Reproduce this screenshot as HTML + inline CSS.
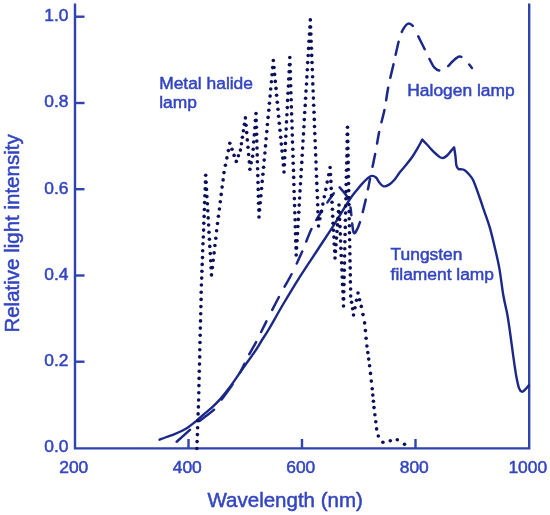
<!DOCTYPE html>
<html><head><meta charset="utf-8"><style>
html,body{margin:0;padding:0;background:#fff;}
body{width:550px;height:515px;overflow:hidden;}
svg{display:block;}
text{font-family:"Liberation Sans",Arial,sans-serif;fill:#3345c0;stroke:#3345c0;stroke-width:0.5px;}
</style></head><body>
<svg width="550" height="515" viewBox="0 0 550 515">
<rect width="550" height="515" fill="#fff"/>
<g stroke="#2e42b0" stroke-width="2.4" fill="none">
<polyline points="75,3.5 75,448.4 529.2,448.4 529.2,3.5"/>
<line x1="75" y1="361.7" x2="84.5" y2="361.7"/><line x1="75" y1="275.5" x2="84.5" y2="275.5"/><line x1="75" y1="189.2" x2="84.5" y2="189.2"/><line x1="75" y1="103.0" x2="84.5" y2="103.0"/><line x1="75" y1="16.7" x2="84.5" y2="16.7"/><line x1="188.5" y1="448" x2="188.5" y2="439"/><line x1="302.0" y1="448" x2="302.0" y2="439"/><line x1="415.5" y1="448" x2="415.5" y2="439"/>
</g>
<g font-size="17.4"><text x="68.5" y="452.3" text-anchor="end">0.0</text><text x="68.5" y="366.0" text-anchor="end">0.2</text><text x="68.5" y="279.8" text-anchor="end">0.4</text><text x="68.5" y="193.5" text-anchor="end">0.6</text><text x="68.5" y="107.3" text-anchor="end">0.8</text><text x="68.5" y="21.0" text-anchor="end">1.0</text><text x="73.8" y="473" text-anchor="middle">200</text><text x="187.3" y="473" text-anchor="middle">400</text><text x="300.8" y="473" text-anchor="middle">600</text><text x="414.3" y="473" text-anchor="middle">800</text><text x="527.8" y="473" text-anchor="middle">1000</text></g>
<path d="M159.60,439.70 C160.73,439.25 164.00,437.90 166.40,437.00 C168.80,436.10 171.47,435.30 174.00,434.30 C176.53,433.30 179.23,432.18 181.60,431.00 C183.97,429.82 186.02,428.65 188.20,427.20 C190.38,425.75 193.07,423.58 194.70,422.30 C196.33,421.02 196.53,420.78 198.00,419.50 C199.47,418.22 201.30,416.48 203.50,414.60 C205.70,412.72 208.45,410.73 211.20,408.20 C213.95,405.67 216.78,403.05 220.00,399.40 C223.22,395.75 226.43,391.83 230.50,386.30 C234.57,380.77 240.32,372.02 244.40,366.20 C248.48,360.38 252.07,355.77 255.00,351.40 C257.93,347.03 259.73,343.63 262.00,340.00 C264.27,336.37 265.05,335.60 268.60,329.60 C272.15,323.60 278.25,312.55 283.30,304.00 C288.35,295.45 293.20,287.30 298.90,278.30 C304.60,269.30 311.60,259.00 317.50,250.00 C323.40,241.00 329.63,231.63 334.30,224.30 C338.97,216.97 342.73,210.43 345.50,206.00 C348.27,201.57 349.08,200.27 350.90,197.70 C352.72,195.13 354.58,192.87 356.40,190.60 C358.22,188.33 359.98,186.10 361.80,184.10 C363.62,182.10 365.67,179.97 367.30,178.60 C368.93,177.23 370.15,176.08 371.60,175.90 C373.05,175.72 374.72,176.40 376.00,177.50 C377.28,178.60 378.03,181.03 379.30,182.50 C380.57,183.97 381.97,185.95 383.60,186.30 C385.23,186.65 387.28,185.70 389.10,184.60 C390.92,183.50 392.68,181.78 394.50,179.70 C396.32,177.62 398.02,174.63 400.00,172.10 C401.98,169.57 404.28,167.15 406.40,164.50 C408.52,161.85 410.80,158.97 412.70,156.20 C414.60,153.43 416.20,150.67 417.80,147.90 C419.40,145.13 421.55,140.98 422.30,139.60 C423.08,140.42 425.42,142.80 427.00,144.50 C428.58,146.20 430.30,148.22 431.80,149.80 C433.30,151.38 434.63,152.75 436.00,154.00 C437.37,155.25 438.75,156.67 440.00,157.30 C441.25,157.93 442.32,158.10 443.50,157.80 C444.68,157.50 445.87,156.62 447.10,155.50 C448.33,154.38 449.73,152.47 450.90,151.10 C452.07,149.73 453.57,147.93 454.10,147.30 C454.33,148.83 455.12,153.47 455.50,156.50 C455.88,159.53 455.90,163.42 456.40,165.50 C456.90,167.58 457.65,168.37 458.50,169.00 C459.35,169.63 460.42,169.07 461.50,169.30 C462.58,169.53 463.80,169.60 465.00,170.40 C466.20,171.20 467.33,172.45 468.70,174.10 C470.07,175.75 471.38,176.40 473.20,180.30 C475.02,184.20 477.73,192.28 479.60,197.50 C481.47,202.72 482.68,206.53 484.40,211.60 C486.12,216.67 488.08,221.57 489.90,227.90 C491.72,234.23 493.72,242.82 495.30,249.60 C496.88,256.38 498.05,260.90 499.40,268.60 C500.75,276.30 502.05,287.98 503.40,295.80 C504.75,303.62 506.33,308.97 507.50,315.50 C508.67,322.03 509.43,328.20 510.40,335.00 C511.37,341.80 512.33,349.52 513.30,356.30 C514.27,363.08 515.23,370.37 516.20,375.70 C517.17,381.03 518.13,385.63 519.10,388.30 C520.07,390.97 521.02,391.47 522.00,391.70 C522.98,391.93 523.87,390.75 525.00,389.70 C526.13,388.65 528.17,386.12 528.80,385.40" fill="none" stroke="#1c2888" stroke-width="2.4" stroke-linejoin="round" stroke-linecap="round"/>
<path d="M176.70,441.70 C179.07,439.58 187.33,432.25 190.90,429.00 C194.47,425.75 195.58,424.37 198.10,422.20 C200.62,420.03 203.38,418.05 206.00,416.00 C208.62,413.95 211.55,412.18 213.80,409.90 C216.05,407.62 216.58,406.23 219.50,402.30 C222.42,398.37 227.88,391.27 231.30,386.30 C234.72,381.33 237.22,377.45 240.00,372.50 C242.78,367.55 245.22,361.87 248.00,356.60 C250.78,351.33 253.52,347.00 256.70,340.90 C259.88,334.80 263.28,327.53 267.10,320.00 C270.92,312.47 275.42,303.55 279.60,295.70 C283.78,287.85 288.33,280.50 292.20,272.90 C296.07,265.30 299.48,257.65 302.80,250.10 C306.12,242.55 308.40,234.95 312.10,227.60 C315.80,220.25 320.55,212.87 325.00,206.00 C329.45,199.13 336.50,189.67 338.80,186.40 C340.48,188.72 346.67,194.03 348.90,200.30 C351.13,206.57 351.42,218.63 352.20,224.00 C352.98,229.37 352.97,231.25 353.60,232.50 C354.23,233.75 354.88,233.40 356.00,231.50 C357.12,229.60 358.63,226.60 360.30,221.10 C361.97,215.60 364.33,205.77 366.00,198.50 C367.67,191.23 368.73,185.10 370.30,177.50 C371.87,169.90 373.88,160.68 375.40,152.90 C376.92,145.12 377.85,138.17 379.40,130.80 C380.95,123.43 383.20,116.10 384.70,108.70 C386.20,101.30 386.88,94.00 388.40,86.40 C389.92,78.80 392.05,70.73 393.80,63.10 C395.55,55.47 397.37,46.20 398.90,40.60 C400.43,35.00 401.43,32.33 403.00,29.50 C404.57,26.67 406.55,24.07 408.30,23.60 C410.05,23.13 411.97,24.83 413.50,26.70 C415.03,28.57 415.57,30.92 417.50,34.80 C419.43,38.68 423.02,45.80 425.10,50.00 C427.18,54.20 428.48,57.12 430.00,60.00 C431.52,62.88 432.53,65.55 434.20,67.30 C435.87,69.05 437.92,70.50 440.00,70.50 C442.08,70.50 444.58,68.83 446.70,67.30 C448.82,65.77 450.62,63.08 452.70,61.30 C454.78,59.52 457.23,56.98 459.20,56.60 C461.17,56.22 463.03,57.95 464.50,59.00 C465.97,60.05 466.70,61.33 468.00,62.90 C469.30,64.47 471.58,67.48 472.30,68.40" fill="none" stroke="#1c2888" stroke-width="2.5" stroke-dasharray="17.55 13.27 18.31 12.89 18.19 14.23 10.11 10.54 14.05 11.17 11.89 12.97 14.36 11.64 14.41 11.81 13.33 10.67 13.69 10.14 10.86 10.14 10.86 10.14 14.77 8.44 7.55 8.44 22.86 10.36 12.66 10.63 10.81 12.31 12.81 10.53 11.94 10.11 12.62 9.82 12.79 10.18 13.74 9.76 13.31 10.37 15.95 12.06 13.99 11.01 15.59 10.32 16.65 11.19 3.98 726.29" stroke-linecap="round" stroke-linejoin="round"/>
<g fill="#0a0f58"><circle cx="196.9" cy="448.5" r="1.8"/><circle cx="197.1" cy="441.6" r="1.8"/><circle cx="197.4" cy="434.6" r="1.8"/><circle cx="197.6" cy="427.7" r="1.8"/><circle cx="197.9" cy="420.8" r="1.8"/><circle cx="198.1" cy="413.9" r="1.8"/><circle cx="198.4" cy="406.9" r="1.8"/><circle cx="198.6" cy="400.0" r="1.8"/><circle cx="198.8" cy="392.8" r="1.8"/><circle cx="198.9" cy="385.6" r="1.8"/><circle cx="199.1" cy="378.4" r="1.8"/><circle cx="199.3" cy="371.2" r="1.8"/><circle cx="199.5" cy="364.1" r="1.8"/><circle cx="199.7" cy="356.9" r="1.8"/><circle cx="199.8" cy="349.7" r="1.8"/><circle cx="200.0" cy="342.5" r="1.8"/><circle cx="200.2" cy="335.3" r="1.8"/><circle cx="200.3" cy="328.1" r="1.8"/><circle cx="200.5" cy="320.9" r="1.8"/><circle cx="200.7" cy="313.8" r="1.8"/><circle cx="200.9" cy="306.6" r="1.8"/><circle cx="201.1" cy="299.4" r="1.8"/><circle cx="201.2" cy="292.2" r="1.8"/><circle cx="201.4" cy="285.0" r="1.8"/><circle cx="201.7" cy="278.1" r="1.8"/><circle cx="201.9" cy="271.3" r="1.8"/><circle cx="202.2" cy="264.4" r="1.8"/><circle cx="202.5" cy="257.6" r="1.8"/><circle cx="202.7" cy="250.7" r="1.8"/><circle cx="203.0" cy="243.8" r="1.8"/><circle cx="203.3" cy="237.0" r="1.8"/><circle cx="203.6" cy="230.1" r="1.8"/><circle cx="203.8" cy="223.2" r="1.8"/><circle cx="204.1" cy="216.4" r="1.8"/><circle cx="204.4" cy="209.5" r="1.8"/><circle cx="204.6" cy="202.6" r="1.8"/><circle cx="204.9" cy="195.8" r="1.8"/><circle cx="205.2" cy="188.9" r="1.8"/><circle cx="205.4" cy="182.1" r="1.8"/><circle cx="205.7" cy="175.2" r="1.8"/><circle cx="206.1" cy="182.3" r="1.8"/><circle cx="206.5" cy="189.4" r="1.8"/><circle cx="206.9" cy="196.6" r="1.8"/><circle cx="207.4" cy="203.7" r="1.8"/><circle cx="207.8" cy="210.8" r="1.8"/><circle cx="208.2" cy="217.9" r="1.8"/><circle cx="208.6" cy="225.0" r="1.8"/><circle cx="209.0" cy="232.2" r="1.8"/><circle cx="209.4" cy="239.3" r="1.8"/><circle cx="209.8" cy="246.4" r="1.8"/><circle cx="210.3" cy="253.5" r="1.8"/><circle cx="210.7" cy="260.7" r="1.8"/><circle cx="211.1" cy="267.8" r="1.8"/><circle cx="211.5" cy="274.9" r="1.8"/><circle cx="212.4" cy="267.6" r="1.8"/><circle cx="213.2" cy="260.2" r="1.8"/><circle cx="214.1" cy="252.9" r="1.8"/><circle cx="214.9" cy="245.5" r="1.8"/><circle cx="215.8" cy="238.2" r="1.8"/><circle cx="216.6" cy="230.8" r="1.8"/><circle cx="217.5" cy="223.5" r="1.8"/><circle cx="218.4" cy="216.2" r="1.8"/><circle cx="219.4" cy="209.0" r="1.8"/><circle cx="220.3" cy="201.7" r="1.8"/><circle cx="221.2" cy="194.4" r="1.8"/><circle cx="222.1" cy="187.1" r="1.8"/><circle cx="223.1" cy="179.9" r="1.8"/><circle cx="224.0" cy="172.6" r="1.8"/><circle cx="225.4" cy="165.3" r="1.8"/><circle cx="226.9" cy="157.9" r="1.8"/><circle cx="228.4" cy="150.6" r="1.8"/><circle cx="229.8" cy="143.3" r="1.8"/><circle cx="232.0" cy="149.3" r="1.8"/><circle cx="234.1" cy="155.4" r="1.8"/><circle cx="236.3" cy="161.4" r="1.8"/><circle cx="238.4" cy="155.8" r="1.8"/><circle cx="240.4" cy="150.1" r="1.8"/><circle cx="241.4" cy="143.7" r="1.8"/><circle cx="242.4" cy="137.2" r="1.8"/><circle cx="243.4" cy="130.8" r="1.8"/><circle cx="244.4" cy="124.3" r="1.8"/><circle cx="245.4" cy="117.9" r="1.8"/><circle cx="246.0" cy="125.2" r="1.8"/><circle cx="246.7" cy="132.6" r="1.8"/><circle cx="247.3" cy="139.9" r="1.8"/><circle cx="248.0" cy="147.2" r="1.8"/><circle cx="248.6" cy="154.5" r="1.8"/><circle cx="249.3" cy="161.9" r="1.8"/><circle cx="249.9" cy="169.2" r="1.8"/><circle cx="251.2" cy="162.8" r="1.8"/><circle cx="252.6" cy="156.3" r="1.8"/><circle cx="253.2" cy="149.2" r="1.8"/><circle cx="253.7" cy="142.0" r="1.8"/><circle cx="254.3" cy="134.9" r="1.8"/><circle cx="254.9" cy="127.8" r="1.8"/><circle cx="255.4" cy="120.6" r="1.8"/><circle cx="256.0" cy="113.5" r="1.8"/><circle cx="256.2" cy="120.4" r="1.8"/><circle cx="256.4" cy="127.3" r="1.8"/><circle cx="256.6" cy="134.2" r="1.8"/><circle cx="256.8" cy="141.1" r="1.8"/><circle cx="257.0" cy="148.0" r="1.8"/><circle cx="257.2" cy="154.9" r="1.8"/><circle cx="257.4" cy="161.8" r="1.8"/><circle cx="257.6" cy="168.7" r="1.8"/><circle cx="257.8" cy="175.6" r="1.8"/><circle cx="258.0" cy="182.5" r="1.8"/><circle cx="258.2" cy="189.4" r="1.8"/><circle cx="258.4" cy="196.3" r="1.8"/><circle cx="258.6" cy="203.2" r="1.8"/><circle cx="258.8" cy="210.1" r="1.8"/><circle cx="259.0" cy="217.0" r="1.8"/><circle cx="259.6" cy="209.9" r="1.8"/><circle cx="260.3" cy="202.8" r="1.8"/><circle cx="260.9" cy="195.7" r="1.8"/><circle cx="261.6" cy="188.5" r="1.8"/><circle cx="262.2" cy="181.4" r="1.8"/><circle cx="262.9" cy="174.3" r="1.8"/><circle cx="263.6" cy="167.2" r="1.8"/><circle cx="264.2" cy="160.1" r="1.8"/><circle cx="264.9" cy="153.0" r="1.8"/><circle cx="265.5" cy="145.9" r="1.8"/><circle cx="266.1" cy="138.8" r="1.8"/><circle cx="266.8" cy="131.6" r="1.8"/><circle cx="267.4" cy="124.5" r="1.8"/><circle cx="268.1" cy="117.4" r="1.8"/><circle cx="268.8" cy="110.3" r="1.8"/><circle cx="269.4" cy="103.2" r="1.8"/><circle cx="270.1" cy="96.1" r="1.8"/><circle cx="270.7" cy="89.0" r="1.8"/><circle cx="271.4" cy="81.8" r="1.8"/><circle cx="272.0" cy="74.7" r="1.8"/><circle cx="272.7" cy="67.6" r="1.8"/><circle cx="273.3" cy="60.5" r="1.8"/><circle cx="274.0" cy="67.5" r="1.8"/><circle cx="274.6" cy="74.4" r="1.8"/><circle cx="275.3" cy="81.4" r="1.8"/><circle cx="276.0" cy="88.4" r="1.8"/><circle cx="276.6" cy="95.3" r="1.8"/><circle cx="277.3" cy="102.3" r="1.8"/><circle cx="278.0" cy="109.3" r="1.8"/><circle cx="278.6" cy="116.2" r="1.8"/><circle cx="279.3" cy="123.2" r="1.8"/><circle cx="280.0" cy="130.2" r="1.8"/><circle cx="280.7" cy="137.2" r="1.8"/><circle cx="281.3" cy="144.1" r="1.8"/><circle cx="282.0" cy="151.1" r="1.8"/><circle cx="282.7" cy="158.1" r="1.8"/><circle cx="283.3" cy="165.0" r="1.8"/><circle cx="284.0" cy="172.0" r="1.8"/><circle cx="284.4" cy="164.8" r="1.8"/><circle cx="284.7" cy="157.7" r="1.8"/><circle cx="285.1" cy="150.5" r="1.8"/><circle cx="285.4" cy="143.4" r="1.8"/><circle cx="285.8" cy="136.2" r="1.8"/><circle cx="286.2" cy="129.1" r="1.8"/><circle cx="286.5" cy="121.9" r="1.8"/><circle cx="286.9" cy="114.8" r="1.8"/><circle cx="287.3" cy="107.6" r="1.8"/><circle cx="287.6" cy="100.4" r="1.8"/><circle cx="288.0" cy="93.3" r="1.8"/><circle cx="288.4" cy="86.1" r="1.8"/><circle cx="288.7" cy="79.0" r="1.8"/><circle cx="289.1" cy="71.8" r="1.8"/><circle cx="289.4" cy="64.7" r="1.8"/><circle cx="289.8" cy="57.5" r="1.8"/><circle cx="290.0" cy="64.6" r="1.8"/><circle cx="290.3" cy="71.6" r="1.8"/><circle cx="290.5" cy="78.7" r="1.8"/><circle cx="290.7" cy="85.7" r="1.8"/><circle cx="290.9" cy="92.8" r="1.8"/><circle cx="291.2" cy="99.8" r="1.8"/><circle cx="291.4" cy="106.9" r="1.8"/><circle cx="291.6" cy="113.9" r="1.8"/><circle cx="291.9" cy="121.0" r="1.8"/><circle cx="292.1" cy="128.0" r="1.8"/><circle cx="292.3" cy="135.1" r="1.8"/><circle cx="292.5" cy="142.1" r="1.8"/><circle cx="292.8" cy="149.2" r="1.8"/><circle cx="293.0" cy="156.2" r="1.8"/><circle cx="293.2" cy="163.3" r="1.8"/><circle cx="293.5" cy="170.4" r="1.8"/><circle cx="293.7" cy="177.4" r="1.8"/><circle cx="293.9" cy="184.5" r="1.8"/><circle cx="294.1" cy="191.5" r="1.8"/><circle cx="294.4" cy="198.6" r="1.8"/><circle cx="294.6" cy="205.6" r="1.8"/><circle cx="294.8" cy="212.7" r="1.8"/><circle cx="295.1" cy="219.7" r="1.8"/><circle cx="295.3" cy="226.8" r="1.8"/><circle cx="295.5" cy="233.8" r="1.8"/><circle cx="295.7" cy="240.9" r="1.8"/><circle cx="296.0" cy="247.9" r="1.8"/><circle cx="296.2" cy="255.0" r="1.8"/><circle cx="296.6" cy="247.9" r="1.8"/><circle cx="297.1" cy="240.8" r="1.8"/><circle cx="297.5" cy="233.6" r="1.8"/><circle cx="297.9" cy="226.5" r="1.8"/><circle cx="298.3" cy="219.4" r="1.8"/><circle cx="298.8" cy="212.3" r="1.8"/><circle cx="299.2" cy="205.1" r="1.8"/><circle cx="299.6" cy="198.0" r="1.8"/><circle cx="300.0" cy="190.9" r="1.8"/><circle cx="300.5" cy="183.8" r="1.8"/><circle cx="300.9" cy="176.6" r="1.8"/><circle cx="301.3" cy="169.5" r="1.8"/><circle cx="301.8" cy="162.4" r="1.8"/><circle cx="302.2" cy="155.3" r="1.8"/><circle cx="302.6" cy="148.1" r="1.8"/><circle cx="303.0" cy="141.0" r="1.8"/><circle cx="303.5" cy="133.9" r="1.8"/><circle cx="303.9" cy="126.8" r="1.8"/><circle cx="304.3" cy="119.6" r="1.8"/><circle cx="304.7" cy="112.5" r="1.8"/><circle cx="305.2" cy="105.4" r="1.8"/><circle cx="305.6" cy="98.3" r="1.8"/><circle cx="306.0" cy="91.1" r="1.8"/><circle cx="306.5" cy="84.0" r="1.8"/><circle cx="306.9" cy="76.9" r="1.8"/><circle cx="307.3" cy="69.8" r="1.8"/><circle cx="307.7" cy="62.6" r="1.8"/><circle cx="308.2" cy="55.5" r="1.8"/><circle cx="308.6" cy="48.4" r="1.8"/><circle cx="309.0" cy="41.3" r="1.8"/><circle cx="309.4" cy="34.1" r="1.8"/><circle cx="309.9" cy="27.0" r="1.8"/><circle cx="310.3" cy="19.9" r="1.8"/><circle cx="310.6" cy="27.0" r="1.8"/><circle cx="310.9" cy="34.1" r="1.8"/><circle cx="311.1" cy="41.2" r="1.8"/><circle cx="311.4" cy="48.3" r="1.8"/><circle cx="311.7" cy="55.4" r="1.8"/><circle cx="312.0" cy="62.5" r="1.8"/><circle cx="312.3" cy="69.6" r="1.8"/><circle cx="312.6" cy="76.8" r="1.8"/><circle cx="312.8" cy="83.9" r="1.8"/><circle cx="313.1" cy="91.0" r="1.8"/><circle cx="313.4" cy="98.1" r="1.8"/><circle cx="313.7" cy="105.2" r="1.8"/><circle cx="314.0" cy="112.3" r="1.8"/><circle cx="314.3" cy="119.4" r="1.8"/><circle cx="314.5" cy="126.5" r="1.8"/><circle cx="314.8" cy="133.6" r="1.8"/><circle cx="315.1" cy="140.7" r="1.8"/><circle cx="315.4" cy="147.8" r="1.8"/><circle cx="315.7" cy="154.9" r="1.8"/><circle cx="316.0" cy="162.0" r="1.8"/><circle cx="316.2" cy="169.1" r="1.8"/><circle cx="316.5" cy="176.3" r="1.8"/><circle cx="316.8" cy="183.4" r="1.8"/><circle cx="317.1" cy="190.5" r="1.8"/><circle cx="317.4" cy="197.6" r="1.8"/><circle cx="317.7" cy="204.7" r="1.8"/><circle cx="317.9" cy="211.8" r="1.8"/><circle cx="318.2" cy="218.9" r="1.8"/><circle cx="318.5" cy="226.0" r="1.8"/><circle cx="319.9" cy="218.7" r="1.8"/><circle cx="321.4" cy="211.4" r="1.8"/><circle cx="322.9" cy="204.1" r="1.8"/><circle cx="324.3" cy="196.8" r="1.8"/><circle cx="325.8" cy="189.4" r="1.8"/><circle cx="327.2" cy="182.1" r="1.8"/><circle cx="328.7" cy="174.8" r="1.8"/><circle cx="330.1" cy="167.5" r="1.8"/><circle cx="330.5" cy="174.5" r="1.8"/><circle cx="330.9" cy="181.4" r="1.8"/><circle cx="331.2" cy="188.4" r="1.8"/><circle cx="331.6" cy="195.3" r="1.8"/><circle cx="332.0" cy="202.3" r="1.8"/><circle cx="332.4" cy="209.3" r="1.8"/><circle cx="332.7" cy="216.2" r="1.8"/><circle cx="333.1" cy="223.2" r="1.8"/><circle cx="333.5" cy="230.2" r="1.8"/><circle cx="333.9" cy="237.1" r="1.8"/><circle cx="334.2" cy="244.1" r="1.8"/><circle cx="334.6" cy="251.0" r="1.8"/><circle cx="335.0" cy="258.0" r="1.8"/><circle cx="335.5" cy="251.4" r="1.8"/><circle cx="336.0" cy="244.8" r="1.8"/><circle cx="336.5" cy="238.1" r="1.8"/><circle cx="337.0" cy="231.5" r="1.8"/><circle cx="337.5" cy="224.9" r="1.8"/><circle cx="338.0" cy="218.2" r="1.8"/><circle cx="338.5" cy="211.6" r="1.8"/><circle cx="339.0" cy="205.0" r="1.8"/><circle cx="339.3" cy="212.2" r="1.8"/><circle cx="339.6" cy="219.4" r="1.8"/><circle cx="340.0" cy="226.6" r="1.8"/><circle cx="340.3" cy="233.9" r="1.8"/><circle cx="340.6" cy="241.1" r="1.8"/><circle cx="340.9" cy="248.3" r="1.8"/><circle cx="341.2" cy="255.5" r="1.8"/><circle cx="341.6" cy="262.7" r="1.8"/><circle cx="341.9" cy="269.9" r="1.8"/><circle cx="342.2" cy="277.1" r="1.8"/><circle cx="342.5" cy="284.4" r="1.8"/><circle cx="342.9" cy="291.6" r="1.8"/><circle cx="343.2" cy="298.8" r="1.8"/><circle cx="343.5" cy="306.0" r="1.8"/><circle cx="343.7" cy="298.9" r="1.8"/><circle cx="343.8" cy="291.7" r="1.8"/><circle cx="344.0" cy="284.6" r="1.8"/><circle cx="344.1" cy="277.4" r="1.8"/><circle cx="344.3" cy="270.3" r="1.8"/><circle cx="344.5" cy="263.1" r="1.8"/><circle cx="344.6" cy="256.0" r="1.8"/><circle cx="344.8" cy="248.8" r="1.8"/><circle cx="344.9" cy="241.7" r="1.8"/><circle cx="345.1" cy="234.5" r="1.8"/><circle cx="345.3" cy="227.4" r="1.8"/><circle cx="345.4" cy="220.2" r="1.8"/><circle cx="345.6" cy="213.1" r="1.8"/><circle cx="345.7" cy="205.9" r="1.8"/><circle cx="345.9" cy="198.8" r="1.8"/><circle cx="346.1" cy="191.6" r="1.8"/><circle cx="346.2" cy="184.5" r="1.8"/><circle cx="346.4" cy="177.3" r="1.8"/><circle cx="346.5" cy="170.2" r="1.8"/><circle cx="346.7" cy="163.0" r="1.8"/><circle cx="346.9" cy="155.9" r="1.8"/><circle cx="347.0" cy="148.7" r="1.8"/><circle cx="347.2" cy="141.6" r="1.8"/><circle cx="347.3" cy="134.4" r="1.8"/><circle cx="347.5" cy="127.3" r="1.8"/><circle cx="347.6" cy="134.3" r="1.8"/><circle cx="347.8" cy="141.4" r="1.8"/><circle cx="347.9" cy="148.4" r="1.8"/><circle cx="348.0" cy="155.4" r="1.8"/><circle cx="348.2" cy="162.4" r="1.8"/><circle cx="348.3" cy="169.5" r="1.8"/><circle cx="348.4" cy="176.5" r="1.8"/><circle cx="348.6" cy="183.5" r="1.8"/><circle cx="348.7" cy="190.6" r="1.8"/><circle cx="348.8" cy="197.6" r="1.8"/><circle cx="349.0" cy="204.6" r="1.8"/><circle cx="349.1" cy="211.6" r="1.8"/><circle cx="349.2" cy="218.7" r="1.8"/><circle cx="349.4" cy="225.7" r="1.8"/><circle cx="349.5" cy="232.7" r="1.8"/><circle cx="349.6" cy="239.8" r="1.8"/><circle cx="349.8" cy="246.8" r="1.8"/><circle cx="349.9" cy="253.8" r="1.8"/><circle cx="350.0" cy="260.9" r="1.8"/><circle cx="350.2" cy="267.9" r="1.8"/><circle cx="350.3" cy="274.9" r="1.8"/><circle cx="350.4" cy="281.9" r="1.8"/><circle cx="350.6" cy="289.0" r="1.8"/><circle cx="350.7" cy="296.0" r="1.8"/><circle cx="351.6" cy="302.3" r="1.8"/><circle cx="352.6" cy="308.7" r="1.8"/><circle cx="353.5" cy="315.0" r="1.8"/><circle cx="355.0" cy="307.7" r="1.8"/><circle cx="356.5" cy="300.3" r="1.8"/><circle cx="358.0" cy="293.0" r="1.8"/><circle cx="359.6" cy="299.7" r="1.8"/><circle cx="361.3" cy="306.4" r="1.8"/><circle cx="363.0" cy="314.6" r="1.8"/><circle cx="364.6" cy="322.9" r="1.8"/><circle cx="365.4" cy="330.6" r="1.8"/><circle cx="366.1" cy="338.3" r="1.8"/><circle cx="366.9" cy="346.0" r="1.8"/><circle cx="367.8" cy="352.6" r="1.8"/><circle cx="368.7" cy="359.1" r="1.8"/><circle cx="369.6" cy="365.7" r="1.8"/><circle cx="370.5" cy="373.4" r="1.8"/><circle cx="371.3" cy="381.1" r="1.8"/><circle cx="372.2" cy="388.8" r="1.8"/><circle cx="372.8" cy="395.1" r="1.8"/><circle cx="373.4" cy="401.3" r="1.8"/><circle cx="374.0" cy="407.6" r="1.8"/><circle cx="374.9" cy="414.7" r="1.8"/><circle cx="375.8" cy="421.8" r="1.8"/><circle cx="376.6" cy="428.9" r="1.8"/><circle cx="378.3" cy="436.0" r="1.8"/><circle cx="382.9" cy="442.3" r="1.8"/><circle cx="390.3" cy="440.7" r="1.8"/><circle cx="397.3" cy="439.8" r="1.8"/><circle cx="404.5" cy="444.2" r="1.8"/></g>
<g font-size="17.4">
<text x="159.2" y="88.5">Metal halide</text>
<text x="159.2" y="107.8">lamp</text>
<text x="407.3" y="95.6">Halogen lamp</text>
<text x="390.6" y="260.3">Tungsten</text>
<text x="390.6" y="280.4">filament lamp</text>
</g>
<text x="207.5" y="507" font-size="20.5">Wavelength (nm)</text>
<text transform="translate(19.3,332.6) rotate(-90)" font-size="20.5">Relative light intensity</text>
</svg>
</body></html>
